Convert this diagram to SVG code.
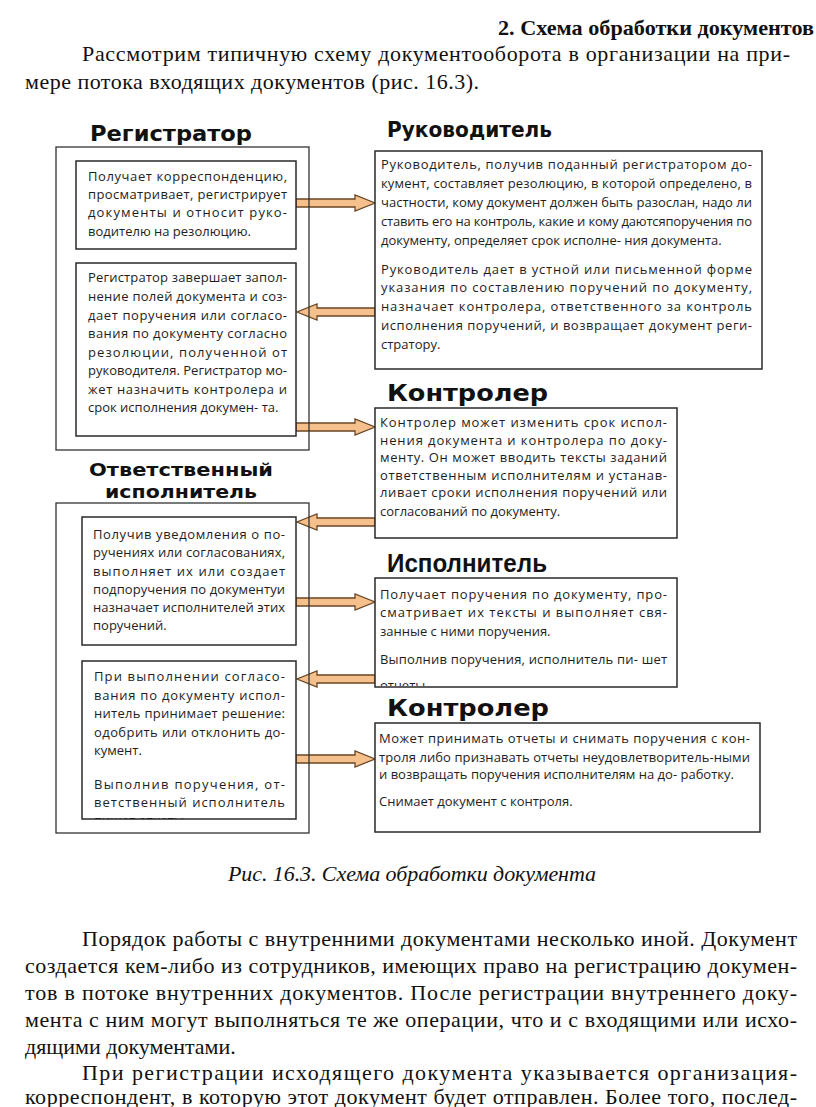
<svg xmlns="http://www.w3.org/2000/svg" width="816" height="1107" viewBox="0 0 816 1107">
<style>
.pg{font-family:"Liberation Serif","Times New Roman",serif;font-size:22px;fill:#111}
.hd{font-weight:bold}
.cap{font-style:italic}
.ttl{font-family:"DejaVu Sans","Liberation Sans",sans-serif;font-weight:bold;fill:#111}
.tx{font-family:"Open Sans","Liberation Sans",sans-serif;font-size:13px;fill:#1e1e1e}
.outer{fill:none;stroke:#333;stroke-width:1.3}
.box{fill:#fff;stroke:#2a2a2a;stroke-width:1.5}
.arr{fill:#F5C08C;stroke:#6a4524;stroke-width:1.3;stroke-linejoin:miter}
</style>
<defs>
<clipPath id="cIsp"><rect x="376" y="579" width="300" height="107"/></clipPath>
<clipPath id="cOtv2"><rect x="83" y="662" width="212" height="157"/></clipPath>
</defs>
<rect width="816" height="1107" fill="#fff"/>

<g id="page-top">
<text class="pg hd" x="498" y="35" textLength="316" lengthAdjust="spacingAndGlyphs">2. Схема обработки документов</text>
<text class="pg" x="82" y="61" textLength="708" lengthAdjust="spacing">Рассмотрим типичную схему документооборота в организации на при-</text>
<text class="pg" x="25" y="89" textLength="454" lengthAdjust="spacing">мере потока входящих документов (рис. 16.3).</text>
</g>

<g id="connectors">
<path class="arr" d="M296,199 H355 V195 L375,203 L355,211 V207 H296 Z"/>
<path class="arr" d="M375,308 H317 V304 L297,312 L317,320 V316 H375 Z"/>
<path class="arr" d="M296,423 H355 V419 L375,427 L355,435 V431 H296 Z"/>
<path class="arr" d="M375,518 H317 V514 L297,522 L317,530 V526 H375 Z"/>
<path class="arr" d="M296,598 H355 V594 L375,602 L355,610 V606 H296 Z"/>
<path class="arr" d="M375,675 H317 V671 L297,679 L317,687 V683 H375 Z"/>
<path class="arr" d="M296,755 H355 V751 L375,759 L355,767 V763 H296 Z"/>
</g>

<g id="registrator">
<text class="ttl" x="90" y="141" font-size="22" textLength="162" lengthAdjust="spacingAndGlyphs">Регистратор</text>
<rect class="outer" x="56" y="147" width="253" height="303"/>
<g id="reg-1">
<rect class="box" x="76" y="161" width="220" height="88"/>
<text class="tx" x="88" y="181" textLength="199" lengthAdjust="spacing">Получает корреспонденцию,</text>
<text class="tx" x="88" y="199" textLength="199" lengthAdjust="spacing">просматривает, регистрирует</text>
<text class="tx" x="88" y="217" textLength="199" lengthAdjust="spacing">документы и относит руко-</text>
<text class="tx" x="88" y="236">водителю на резолюцию.</text>
</g>
<g id="reg-2">
<rect class="box" x="76" y="263" width="220" height="173"/>
<text class="tx" x="88" y="282" textLength="199" lengthAdjust="spacing">Регистратор завершает запол-</text>
<text class="tx" x="88" y="301" textLength="199" lengthAdjust="spacing">нение полей документа и соз-</text>
<text class="tx" x="88" y="320" textLength="199" lengthAdjust="spacing">дает поручения или согласо-</text>
<text class="tx" x="88" y="338" textLength="199" lengthAdjust="spacing">вания по документу согласно</text>
<text class="tx" x="88" y="357" textLength="199" lengthAdjust="spacing">резолюции, полученной от</text>
<text class="tx" x="88" y="375" textLength="199" lengthAdjust="spacing">руководителя. Регистратор мо-</text>
<text class="tx" x="88" y="394" textLength="199" lengthAdjust="spacing">жет назначить  контролера и</text>
<text class="tx" x="88" y="412">срок исполнения докумен- та.</text>
</g>
</g>

<g id="rukovoditel">
<text class="ttl" x="387" y="137" font-size="21.5" textLength="165" lengthAdjust="spacingAndGlyphs">Руководитель</text>
<rect class="box" x="375" y="151" width="387" height="218"/>
<text class="tx" x="381" y="169" textLength="371" lengthAdjust="spacing">Руководитель, получив поданный регистратором до-</text>
<text class="tx" x="381" y="188" textLength="371" lengthAdjust="spacing">кумент, составляет резолюцию, в которой определено, в</text>
<text class="tx" x="381" y="207" textLength="371" lengthAdjust="spacing">частности, кому документ должен быть разослан, надо ли</text>
<text class="tx" x="381" y="226" textLength="371" lengthAdjust="spacing">ставить его на контроль, какие и кому даютсяпоручения по</text>
<text class="tx" x="381" y="245">документу, определяет срок исполне- ния документа.</text>
<text class="tx" x="381" y="274" textLength="371" lengthAdjust="spacing">Руководитель дает в устной или письменной форме</text>
<text class="tx" x="381" y="292" textLength="371" lengthAdjust="spacing">указания по составлению поручений по документу,</text>
<text class="tx" x="381" y="311" textLength="371" lengthAdjust="spacing">назначает контролера, ответственного за контроль</text>
<text class="tx" x="381" y="330" textLength="371" lengthAdjust="spacing">исполнения поручений, и возвращает документ реги-</text>
<text class="tx" x="381" y="349">стратору.</text>
</g>

<g id="kontroler-1">
<text class="ttl" x="387" y="401" font-size="23" textLength="161" lengthAdjust="spacingAndGlyphs">Контролер</text>
<rect class="box" x="375" y="408" width="302" height="130"/>
<text class="tx" x="380" y="427" textLength="287" lengthAdjust="spacing">Контролер может изменить срок испол-</text>
<text class="tx" x="380" y="445" textLength="287" lengthAdjust="spacing">нения документа и контролера по доку-</text>
<text class="tx" x="380" y="462" textLength="287" lengthAdjust="spacing">менту. Он может вводить тексты заданий</text>
<text class="tx" x="380" y="480" textLength="287" lengthAdjust="spacing">ответственным исполнителям и устанав-</text>
<text class="tx" x="380" y="497" textLength="287" lengthAdjust="spacing">ливает сроки исполнения поручений или</text>
<text class="tx" x="380" y="516">согласований по документу.</text>
</g>

<g id="otvetstvenny">
<text class="ttl" x="89" y="476" font-size="18" textLength="184" lengthAdjust="spacingAndGlyphs">Ответственный</text>
<text class="ttl" x="105" y="498" font-size="18" textLength="152" lengthAdjust="spacingAndGlyphs">исполнитель</text>
<rect class="outer" x="56" y="503" width="253" height="330"/>
<g id="otv-1">
<rect class="box" x="82" y="517" width="214" height="128"/>
<text class="tx" x="93" y="539" textLength="192" lengthAdjust="spacing">Получив уведомления о по-</text>
<text class="tx" x="93" y="557" textLength="192" lengthAdjust="spacing">ручениях или согласованиях,</text>
<text class="tx" x="93" y="576" textLength="192" lengthAdjust="spacing">выполняет их или создает</text>
<text class="tx" x="93" y="594" textLength="192" lengthAdjust="spacing">подпоручения по документуи</text>
<text class="tx" x="93" y="612" textLength="192" lengthAdjust="spacing">назначает исполнителей этих</text>
<text class="tx" x="93" y="630">поручений.</text>
</g>
<g id="otv-2">
<rect class="box" x="82" y="661" width="214" height="158"/>
<g clip-path="url(#cOtv2)">
<text class="tx" x="94" y="681" textLength="191" lengthAdjust="spacing">При выполнении согласо-</text>
<text class="tx" x="94" y="700" textLength="191" lengthAdjust="spacing">вания по документу испол-</text>
<text class="tx" x="94" y="718" textLength="191" lengthAdjust="spacing">нитель принимает решение:</text>
<text class="tx" x="94" y="737" textLength="191" lengthAdjust="spacing">одобрить или отклонить до-</text>
<text class="tx" x="94" y="755">кумент.</text>
<text class="tx" x="94" y="789" textLength="191" lengthAdjust="spacing">Выполнив поручения, от-</text>
<text class="tx" x="94" y="807" textLength="191" lengthAdjust="spacing">ветственный исполнитель</text>
<text class="tx" x="94" y="824.5">пишет отчеты.</text>
</g>
</g>
</g>

<g id="ispolnitel">
<text x="387" y="572" font-family="Liberation Sans, Arial, sans-serif" font-weight="bold" font-size="26" fill="#111" textLength="160" lengthAdjust="spacingAndGlyphs">Исполнитель</text>
<rect class="box" x="375" y="578" width="302" height="109"/>
<g clip-path="url(#cIsp)">
<text class="tx" x="380" y="599" textLength="287" lengthAdjust="spacing">Получает поручения по документу, про-</text>
<text class="tx" x="380" y="617" textLength="287" lengthAdjust="spacing">сматривает их тексты и выполняет свя-</text>
<text class="tx" x="380" y="636">занные с ними поручения.</text>
<text class="tx" x="380" y="664" textLength="287" lengthAdjust="spacing">Выполнив поручения, исполнитель пи- шет</text>
<text class="tx" x="380" y="690">отчеты.</text>
</g>
</g>

<g id="kontroler-2">
<text class="ttl" x="387" y="716" font-size="23" textLength="162" lengthAdjust="spacingAndGlyphs">Контролер</text>
<rect class="box" x="375" y="723" width="385" height="109"/>
<text class="tx" x="379" y="743" textLength="371" lengthAdjust="spacing">Может принимать отчеты и снимать поручения с кон-</text>
<text class="tx" x="379" y="762" textLength="371" lengthAdjust="spacing">троля либо признавать отчеты неудовлетворитель-ными</text>
<text class="tx" x="379" y="779">и возвращать поручения исполнителям на до- работку.</text>
<text class="tx" x="379" y="806">Снимает документ с контроля.</text>
</g>

<g id="page-bottom">
<text class="pg cap" x="228" y="881" textLength="368" lengthAdjust="spacing">Рис. 16.3. Схема обработки документа</text>
<text class="pg" x="82" y="946" textLength="715" lengthAdjust="spacing">Порядок работы с внутренними документами несколько иной. Документ</text>
<text class="pg" x="25" y="973" textLength="772" lengthAdjust="spacing">создается кем-либо из сотрудников, имеющих право на регистрацию докумен-</text>
<text class="pg" x="25" y="1000" textLength="772" lengthAdjust="spacing">тов в потоке внутренних документов. После регистрации внутреннего доку-</text>
<text class="pg" x="25" y="1027" textLength="772" lengthAdjust="spacing">мента с ним могут выполняться те же операции, что и с входящими или исхо-</text>
<text class="pg" x="25" y="1054">дящими документами.</text>
<text class="pg" x="82" y="1080" textLength="715" lengthAdjust="spacing">При регистрации исходящего документа указывается организация-</text>
<text class="pg" x="25" y="1104" textLength="772" lengthAdjust="spacing">корреспондент, в которую этот документ будет отправлен. Более того, послед-</text>
</g>
</svg>
